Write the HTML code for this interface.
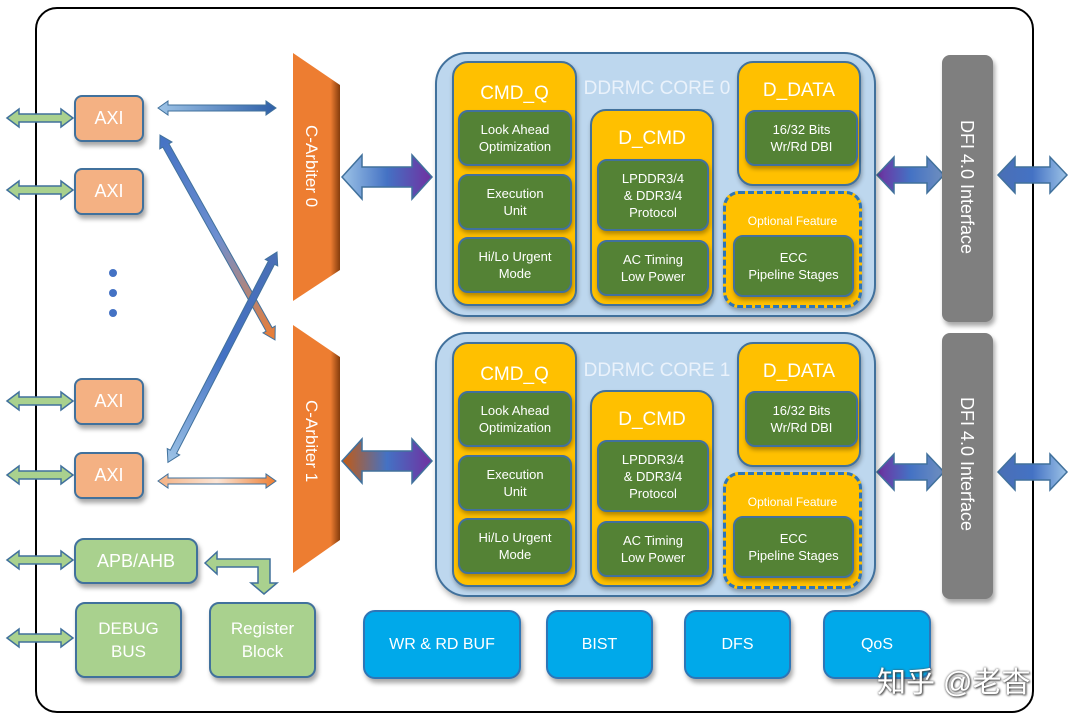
<!DOCTYPE html>
<html><head><meta charset="utf-8"><style>
*{margin:0;padding:0;box-sizing:border-box}
body{width:1075px;height:722px;background:#fff;position:relative;overflow:hidden;font-family:"Liberation Sans","Noto Sans CJK SC",sans-serif}
.a{position:absolute}
.frame{left:35px;top:7px;width:999px;height:706px;border:2px solid #000;border-radius:22px}
.axi{position:absolute;background:#f4b183;border:2px solid #41719c;border-radius:8px;color:#fff;font-size:18px;display:flex;align-items:center;justify-content:center;box-shadow:2px 4px 5px rgba(0,0,0,.35)}
.gb{position:absolute;background:#a9d18e;border:2px solid #41719c;border-radius:10px;color:#fff;font-size:17px;display:flex;align-items:center;justify-content:center;text-align:center;line-height:23px;box-shadow:2px 4px 5px rgba(0,0,0,.35)}
.bb{position:absolute;background:#00a9ea;border:2px solid #2e75b6;border-radius:12px;color:#fff;font-size:16px;display:flex;align-items:center;justify-content:center;box-shadow:2px 4px 5px rgba(0,0,0,.35)}
.core{position:absolute;left:435px;width:441px;height:265px;background:#bdd7ee;border:2px solid #41719c;border-radius:32px;box-shadow:2px 4px 6px rgba(0,0,0,.3)}
.y{position:absolute;background:#ffc000;border:2px solid #41719c;border-radius:16px;box-shadow:1px 3px 4px rgba(0,0,0,.3)}
.g{position:absolute;background:#548235;border:2px solid #41719c;border-radius:10px;color:#fff;font-size:13px;line-height:17px;display:flex;align-items:center;justify-content:center;text-align:center;box-shadow:1px 3px 4px rgba(0,0,0,.3)}
.t{position:absolute;color:#fff;font-size:19px;text-align:center;white-space:nowrap}
.dfi{position:absolute;left:942px;width:51px;background:#7f7f7f;border-radius:8px;box-shadow:2px 4px 5px rgba(0,0,0,.35)}
.vt{position:absolute;color:#fff;writing-mode:vertical-rl;white-space:nowrap}
</style></head><body>
<div class="a frame"></div>

<svg class="a" style="left:0;top:0" width="1075" height="722">
<defs>
<linearGradient id="gb" x1="0" x2="1"><stop offset="0" stop-color="#9dc3e6"/><stop offset="1" stop-color="#2e5fa8"/></linearGradient>
<linearGradient id="gbo" x1="0" x2="1"><stop offset="0" stop-color="#4472c4"/><stop offset=".5" stop-color="#6d8fd0"/><stop offset="1" stop-color="#ed7d31"/></linearGradient>
<linearGradient id="go" x1="0" x2="1"><stop offset="0" stop-color="#f4b183"/><stop offset=".5" stop-color="#fbe5d6"/><stop offset="1" stop-color="#ed7d31"/></linearGradient>
<linearGradient id="gp" x1="0" x2="1"><stop offset="0" stop-color="#9dc3e6"/><stop offset=".5" stop-color="#4472c4"/><stop offset="1" stop-color="#7030a0"/></linearGradient>
<linearGradient id="gop" x1="0" x2="1"><stop offset="0" stop-color="#c55a11"/><stop offset=".5" stop-color="#4472c4"/><stop offset="1" stop-color="#7030a0"/></linearGradient>
<linearGradient id="gpb" x1="0" x2="1"><stop offset="0" stop-color="#7030a0"/><stop offset=".5" stop-color="#4472c4"/><stop offset="1" stop-color="#6f8fbf"/></linearGradient>
<linearGradient id="gbl" x1="0" x2="1"><stop offset="0" stop-color="#4a6fb5"/><stop offset=".5" stop-color="#4472c4"/><stop offset="1" stop-color="#9dc3e6"/></linearGradient>
<linearGradient id="ar" x1="0" x2="1"><stop offset="0" stop-color="#ed7d31"/><stop offset=".8" stop-color="#ed7d31"/><stop offset="1" stop-color="#843c0c"/></linearGradient>
</defs>
<!-- green arrows -->
<g fill="#a9d18e" stroke="#41719c" stroke-width="1.5">
<polygon transform="translate(7,118)" points="0,0 12,-9 12,-4 54,-4 54,-9 66,0 54,9 54,4 12,4 12,9"/>
<polygon transform="translate(7,190)" points="0,0 12,-9 12,-4 54,-4 54,-9 66,0 54,9 54,4 12,4 12,9"/>
<polygon transform="translate(7,401)" points="0,0 12,-9 12,-4 54,-4 54,-9 66,0 54,9 54,4 12,4 12,9"/>
<polygon transform="translate(7,475)" points="0,0 12,-9 12,-4 54,-4 54,-9 66,0 54,9 54,4 12,4 12,9"/>
<polygon transform="translate(7,560)" points="0,0 12,-9 12,-4 54,-4 54,-9 66,0 54,9 54,4 12,4 12,9"/>
<polygon transform="translate(7,638)" points="0,0 12,-9 12,-4 54,-4 54,-9 66,0 54,9 54,4 12,4 12,9"/>
<polygon points="205,563 217,552 217,559 270,559 270,583 277,583 264,594 251,583 258,583 258,567 217,567 217,574"/>
</g>
<!-- thin arrows -->
<g stroke="#41719c" stroke-width="1">
<polygon fill="url(#gb)" transform="translate(158,108)" points="0,0 10,-7 10,-3 108,-3 108,-7 118,0 108,7 108,3 10,3 10,7"/>
<polygon fill="url(#go)" transform="translate(158,481)" points="0,0 10,-7 10,-3 108,-3 108,-7 118,0 108,7 108,3 10,3 10,7"/>
<polygon fill="url(#gbo)" transform="translate(160,135) rotate(60.7)" points="0,0 12,-7 12,-3.5 223,-3.5 223,-7 235,0 223,7 223,3.5 12,3.5 12,7"/>
<polygon fill="url(#gbl)" transform="translate(277,252) rotate(117.4)" points="0,0 12,-7 12,-3.5 225,-3.5 225,-7 237,0 225,7 225,3.5 12,3.5 12,7"/>
</g>
<!-- arbiters -->
<polygon fill="url(#ar)" points="293,53 340,85 340,270 293,301"/>
<polygon fill="url(#ar)" points="293,325 340,357 340,540 293,573"/>
<!-- big arrows -->
<g stroke="#41719c" stroke-width="1.5">
<polygon fill="url(#gp)" transform="translate(342,177)" points="0,0 20,-22 20,-10 70,-10 70,-22 90,0 70,22 70,10 20,10 20,22"/>
<polygon fill="url(#gop)" transform="translate(342,461)" points="0,0 20,-22 20,-10 70,-10 70,-22 90,0 70,22 70,10 20,10 20,22"/>
<polygon fill="url(#gpb)" transform="translate(877,175)" points="0,0 17,-18 17,-8 50,-8 50,-18 67,0 50,18 50,8 17,8 17,18"/>
<polygon fill="url(#gpb)" transform="translate(877,472)" points="0,0 17,-18 17,-8 50,-8 50,-18 67,0 50,18 50,8 17,8 17,18"/>
<polygon fill="url(#gbl)" transform="translate(998,175)" points="0,0 17,-18 17,-8 52,-8 52,-18 69,0 52,18 52,8 17,8 17,18"/>
<polygon fill="url(#gbl)" transform="translate(998,472)" points="0,0 17,-18 17,-8 52,-8 52,-18 69,0 52,18 52,8 17,8 17,18"/>
</g>
<g fill="#4472c4"><circle cx="113" cy="273" r="4"/><circle cx="113" cy="293" r="4"/><circle cx="113" cy="313" r="4"/></g>
</svg>

<div class="vt" style="left:301px;top:125px;font-size:17px;color:#fff">C-Arbiter 0</div>
<div class="vt" style="left:301px;top:400px;font-size:17px;color:#fff">C-Arbiter 1</div>

<div class="axi" style="left:74px;top:95px;width:70px;height:47px">AXI</div>
<div class="axi" style="left:74px;top:168px;width:70px;height:47px">AXI</div>
<div class="axi" style="left:74px;top:378px;width:70px;height:47px">AXI</div>
<div class="axi" style="left:74px;top:452px;width:70px;height:47px">AXI</div>
<div class="gb" style="left:74px;top:538px;width:124px;height:46px;font-size:18px">APB/AHB</div>
<div class="gb" style="left:75px;top:602px;width:107px;height:76px">DEBUG<br>BUS</div>
<div class="gb" style="left:209px;top:602px;width:107px;height:76px">Register<br>Block</div>

<div class="bb" style="left:363px;top:610px;width:158px;height:69px">WR &amp; RD BUF</div>
<div class="bb" style="left:546px;top:610px;width:107px;height:69px">BIST</div>
<div class="bb" style="left:684px;top:610px;width:107px;height:69px">DFS</div>
<div class="bb" style="left:823px;top:610px;width:108px;height:69px">QoS</div>

<div class="dfi" style="top:55px;height:267px"></div>
<div class="dfi" style="top:333px;height:266px"></div>
<div class="vt" style="left:956px;top:120px;font-size:18px">DFI 4.0 Interface</div>
<div class="vt" style="left:956px;top:397px;font-size:18px">DFI 4.0 Interface</div>

<!-- core 0 -->
<div class="core" style="top:52px">
 <div class="t" style="left:120px;top:24px;width:200px;color:#eaf2fb">DDRMC CORE 0</div>
 <div class="y" style="left:15px;top:7px;width:125px;height:245px"></div>
 <div class="t" style="left:15px;top:29px;width:125px">CMD_Q</div>
 <div class="g" style="left:21px;top:56px;width:114px;height:56px">Look Ahead<br>Optimization</div>
 <div class="g" style="left:21px;top:120px;width:114px;height:56px">Execution<br>Unit</div>
 <div class="g" style="left:21px;top:183px;width:114px;height:56px">Hi/Lo Urgent<br>Mode</div>
 <div class="y" style="left:153px;top:55px;width:124px;height:197px"></div>
 <div class="t" style="left:153px;top:74px;width:124px">D_CMD</div>
 <div class="g" style="left:160px;top:105px;width:112px;height:72px">LPDDR3/4<br>&amp; DDR3/4<br>Protocol</div>
 <div class="g" style="left:160px;top:186px;width:112px;height:56px">AC Timing<br>Low Power</div>
 <div class="y" style="left:300px;top:7px;width:124px;height:125px"></div>
 <div class="t" style="left:300px;top:26px;width:124px">D_DATA</div>
 <div class="g" style="left:308px;top:56px;width:113px;height:56px">16/32 Bits<br>Wr/Rd DBI</div>
 <div class="y" style="left:286px;top:137px;width:139px;height:117px;border:3px dashed #2e75b6"></div>
 <div class="t" style="left:286px;top:160px;width:139px;font-size:12px">Optional Feature</div>
 <div class="g" style="left:296px;top:181px;width:121px;height:62px">ECC<br>Pipeline Stages</div>
</div>
<!-- core 1 -->
<div class="core" style="top:332px">
 <div class="t" style="left:120px;top:26px;width:200px;color:#eaf2fb">DDRMC CORE 1</div>
 <div class="y" style="left:15px;top:8px;width:125px;height:245px"></div>
 <div class="t" style="left:15px;top:30px;width:125px">CMD_Q</div>
 <div class="g" style="left:21px;top:57px;width:114px;height:56px">Look Ahead<br>Optimization</div>
 <div class="g" style="left:21px;top:121px;width:114px;height:56px">Execution<br>Unit</div>
 <div class="g" style="left:21px;top:184px;width:114px;height:56px">Hi/Lo Urgent<br>Mode</div>
 <div class="y" style="left:153px;top:56px;width:124px;height:197px"></div>
 <div class="t" style="left:153px;top:75px;width:124px">D_CMD</div>
 <div class="g" style="left:160px;top:106px;width:112px;height:72px">LPDDR3/4<br>&amp; DDR3/4<br>Protocol</div>
 <div class="g" style="left:160px;top:187px;width:112px;height:56px">AC Timing<br>Low Power</div>
 <div class="y" style="left:300px;top:8px;width:124px;height:125px"></div>
 <div class="t" style="left:300px;top:27px;width:124px">D_DATA</div>
 <div class="g" style="left:308px;top:57px;width:113px;height:56px">16/32 Bits<br>Wr/Rd DBI</div>
 <div class="y" style="left:286px;top:138px;width:139px;height:117px;border:3px dashed #2e75b6"></div>
 <div class="t" style="left:286px;top:161px;width:139px;font-size:12px">Optional Feature</div>
 <div class="g" style="left:296px;top:182px;width:121px;height:62px">ECC<br>Pipeline Stages</div>
</div>

<div class="a" style="left:877px;top:659px;font-size:29px;color:#fff;text-shadow:0 0 2px #555,1px 1px 2px #333;white-space:nowrap">知乎 @老杳</div>
</body></html>
